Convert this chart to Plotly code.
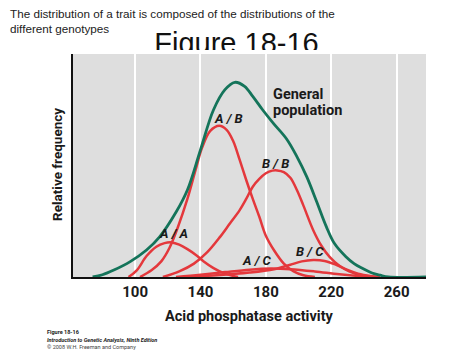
import plotly.graph_objects as go

# ---- data ----
green_x = [74, 80, 87, 97, 107, 115, 125, 132, 140, 148, 155, 161, 167, 172, 178, 184.5, 192.6, 199, 205, 211, 217, 222, 229, 234, 239, 245, 250, 255, 278]
green_y = [0, 0.01, 0.031, 0.069, 0.121, 0.18, 0.29, 0.39, 0.57, 0.75, 0.84, 0.873, 0.855, 0.81, 0.75, 0.69, 0.62, 0.54, 0.45, 0.34, 0.226, 0.15, 0.091, 0.06, 0.039, 0.018, 0.008, 0, 0]

ab_x = [103, 110, 116, 121, 126, 132, 137, 141, 146, 151.5, 156, 160, 164, 168, 172, 176, 180, 185, 191, 197, 203, 210]
ab_y = [0, 0.03, 0.07, 0.13, 0.22, 0.35, 0.48, 0.58, 0.655, 0.678, 0.66, 0.61, 0.525, 0.435, 0.35, 0.27, 0.185, 0.12, 0.06, 0.025, 0.008, 0]

bb_x = [117, 127, 136, 144, 152, 158, 164, 168, 172, 176, 180, 184, 187, 191, 195, 199, 203, 209, 214, 219, 225, 231, 238, 246]
bb_y = [0, 0.025, 0.06, 0.11, 0.18, 0.24, 0.30, 0.35, 0.405, 0.44, 0.465, 0.477, 0.478, 0.47, 0.445, 0.39, 0.32, 0.21, 0.14, 0.09, 0.05, 0.025, 0.008, 0]

aa_x = [96, 101, 107, 113, 118, 122.5, 127, 132, 137, 142, 148, 155, 163]
aa_y = [0, 0.03, 0.094, 0.136, 0.152, 0.155, 0.145, 0.125, 0.10, 0.07, 0.04, 0.015, 0]

ac_x = [125, 140, 155, 170, 183, 195, 210, 225, 240, 250]
ac_y = [0, 0.01, 0.022, 0.033, 0.038, 0.035, 0.025, 0.012, 0.003, 0]

bc_x = [130, 150, 170, 185, 195, 202, 209, 216, 223, 230, 238, 248]
bc_y = [0, 0.008, 0.02, 0.035, 0.055, 0.07, 0.076, 0.072, 0.055, 0.032, 0.012, 0]

tick_vals = [100, 140, 180, 220, 260]
tick_text = ["100", "140", "180", "220", "260"]

labels = [("A / A", 123.4, 0.193), ("A / B", 157, 0.713), ("B / B", 186, 0.51),
          ("A / C", 174.7, 0.073), ("B / C", 206.9, 0.113)]

RED = "#e4383c"
GREEN = "#14745a"
W, H = 474, 355
BOLD = "Roboto"

fig = go.Figure()
for xs, ys in [(aa_x, aa_y), (ab_x, ab_y), (bb_x, bb_y), (ac_x, ac_y), (bc_x, bc_y)]:
    fig.add_trace(go.Scatter(x=xs, y=ys, mode="lines", line=dict(color=RED, width=2.5, shape="spline", smoothing=1.0),
                             showlegend=False, hoverinfo="skip", cliponaxis=False))
fig.add_trace(go.Scatter(x=green_x, y=green_y, mode="lines", line=dict(color=GREEN, width=2.8, shape="spline", smoothing=1.0),
                         showlegend=False, hoverinfo="skip"))

# clipped big heading
fig.add_trace(go.Scatter(x=[236.5 / W], y=[0.092], xaxis="x2", yaxis="y2", mode="text",
                         text=["Figure 18-16"], textposition="middle center",
                         textfont=dict(family="Liberation Sans, Arial", size=29, color="#111"),
                         cliponaxis=True, showlegend=False, hoverinfo="skip"))

fig.update_layout(
    width=W, height=H,
    margin=dict(l=0, r=0, t=0, b=0),
    paper_bgcolor="white", plot_bgcolor="rgba(0,0,0,0)",
    xaxis=dict(domain=[73 / W, 426 / W], range=[62, 278], tickvals=tick_vals, ticktext=tick_text,
               showgrid=True, gridcolor="white", gridwidth=2, zeroline=False,
               showline=True, linecolor="#111", linewidth=2, ticks="",
               tickfont=dict(family=BOLD, size=15, color="#1a1a1a", weight="bold"), automargin=False),
    yaxis=dict(domain=[78 / H, 301 / H], range=[0, 1], showgrid=False, zeroline=False,
               showline=True, linecolor="#111", linewidth=2, showticklabels=False, ticks="", automargin=False),
    xaxis2=dict(domain=[0, 1], range=[0, 1], visible=False, anchor="y2"),
    yaxis2=dict(domain=[305 / H, 1], range=[0, 1], visible=False, anchor="x2"),
    shapes=[dict(type="rect", xref="x domain", yref="y domain", x0=0, x1=1, y0=0, y1=1,
                 fillcolor="#dedede", line=dict(width=0), layer="below")],
)

ann = []
for t, x, y in labels:
    ann.append(dict(x=x, y=y, xref="x", yref="y", text="<b><i>" + t + "</i></b>", showarrow=False,
                    xanchor="center", yanchor="middle",
                    font=dict(family=BOLD, size=13, color="#1a1a1a")))
for t, py in [("General", 95), ("population", 110)]:
    ann.append(dict(x=271 / W, y=1 - py / H, xref="paper", yref="paper", text="<b>" + t + "</b>", showarrow=False,
                    xanchor="left", yanchor="middle", font=dict(family=BOLD, size=14.5, color="#1a1a1a")))
ann.append(dict(x=8 / W, y=1 - 14 / H, xref="paper", yref="paper", xanchor="left", yanchor="middle",
                text="The distribution of a trait is composed of the distributions of the", showarrow=False,
                font=dict(family="Liberation Sans, Arial", size=11.7, color="#222")))
ann.append(dict(x=8 / W, y=1 - 28 / H, xref="paper", yref="paper", xanchor="left", yanchor="middle",
                text="different genotypes", showarrow=False,
                font=dict(family="Liberation Sans, Arial", size=11.7, color="#222")))
ann.append(dict(x=249 / W, y=1 - 316 / H, xref="paper", yref="paper", text="<b>Acid phosphatase activity</b>",
                xanchor="center", yanchor="middle",
                showarrow=False, font=dict(family=BOLD, size=14.5, color="#1a1a1a")))
ann.append(dict(x=57 / W, y=1 - 165 / H, xref="paper", yref="paper", text="<b>Relative frequency</b>",
                xanchor="center", yanchor="middle",
                textangle=-90, showarrow=False, font=dict(family=BOLD, size=13.5, color="#1a1a1a")))
ann.append(dict(x=45 / W, y=1 - 332 / H, xref="paper", yref="paper", xanchor="left", yanchor="middle",
                text="<b>Figure 18-16</b>",
                showarrow=False, font=dict(family=BOLD, size=5.5, color="#222")))
ann.append(dict(x=45 / W, y=1 - 339.5 / H, xref="paper", yref="paper", xanchor="left", yanchor="middle",
                text="<b><i>Introduction to Genetic Analysis, Ninth Edition</i></b>",
                showarrow=False, font=dict(family=BOLD, size=5.5, color="#222")))
ann.append(dict(x=45 / W, y=1 - 347 / H, xref="paper", yref="paper", xanchor="left", yanchor="middle",
                text="© 2008 W.H. Freeman and Company",
                showarrow=False, font=dict(family=BOLD, size=5.5, color="#444")))
fig.update_layout(annotations=ann)

fig.write_html("out.html", config={"displayModeBar": False},
               post_script="document.body.style.margin='0';document.body.style.overflow='hidden';")
